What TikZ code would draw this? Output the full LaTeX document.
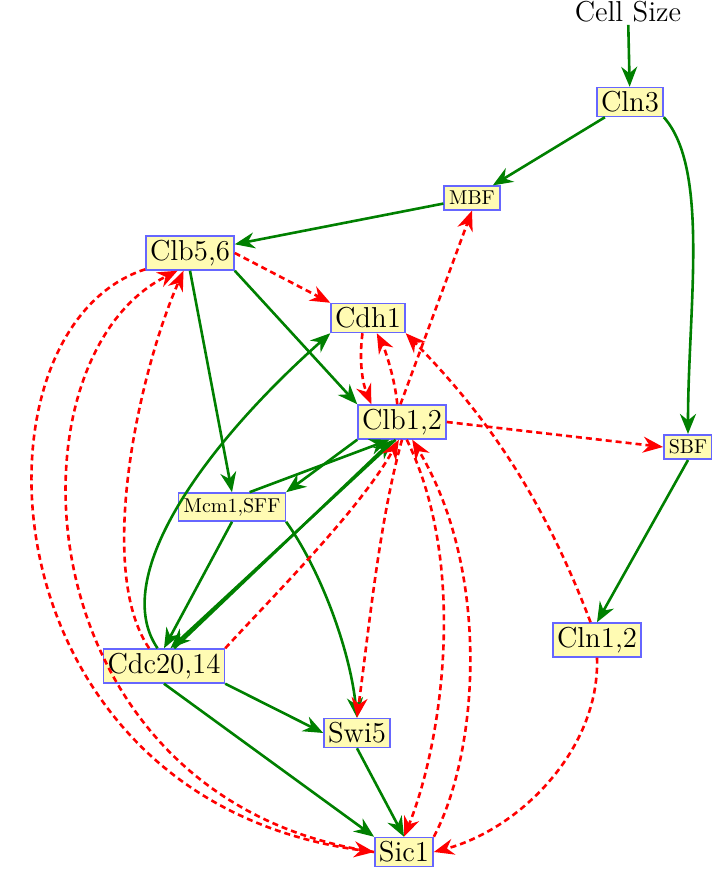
\documentclass[tikz,border=0pt]{standalone}
\usetikzlibrary{arrows.meta}
\begin{document}
\begin{tikzpicture}[x=0.5pt,y=0.5pt,
 box/.style={draw=blue!60,fill=yellow!30,line width=0.8pt,inner sep=2pt,font=\Large},
 sbox/.style={box,font=\normalsize,inner sep=2.5pt},
 posedge/.style={draw=green!50!black,line width=1.3pt,-{Stealth[length=10pt,width=8pt]}},
 negedge/.style={draw=red,line width=1.3pt,dash pattern=on 3pt off 2pt,-{Stealth[length=10pt,width=8pt]}}]
\useasboundingbox (0,0) rectangle (712,869);
\node[font=\Large,inner sep=1pt] (cs) at (628,857) {Cell Size};
\node[box] (cln3) at (630,767) {Cln3};
\node[sbox] (mbf) at (472,671) {MBF};
\node[box] (clb56) at (190,616) {Clb5,6};
\node[box] (cdh1) at (368,551) {Cdh1};
\node[box] (clb12) at (402,447) {Clb1,2};
\node[sbox] (sbf) at (688,422) {SBF};
\node[sbox] (mcm) at (232,362) {Mcm1,SFF};
\node[box] (cln12) at (597,229) {Cln1,2};
\node[box] (cdc) at (164,203) {Cdc20,14};
\node[box] (swi5) at (357,136) {Swi5};
\node[box] (sic1) at (404,17) {Sic1};
% green
\draw[posedge] (cs) -- (cln3);
\draw[posedge] (cln3) -- (mbf);
\draw[posedge] (cln3.south east) .. controls (710,700) and (688,560) .. (sbf.north);
\draw[posedge] (mbf) -- (clb56);
\draw[posedge] (clb56.south) -- (mcm.north);
\draw[posedge] (clb56.south east) -- (clb12.north west);
\draw[posedge] (clb12.south west) -- (mcm.north east);
\draw[posedge] (mcm.40) -- (clb12.235);
\draw[posedge] (mcm.south) -- (cdc.north);
\draw[posedge] (clb12.250) -- (cdc.70);
\draw[posedge] (cdc.60) -- (clb12.243);
\draw[posedge] (mcm.south east) .. controls (320,300) and (350,220) .. (swi5.north);
\draw[posedge] (cdc.110) .. controls (110,290) and (200,420) .. (cdh1.south west);
\draw[posedge] (cdc.south east) -- (swi5.west);
\draw[posedge] (cdc.south) -- (sic1.north west);
\draw[posedge] (swi5.south) -- (sic1.north);
\draw[posedge] (sbf.south) -- (cln12.north);
% red
\draw[negedge] (clb56.east) -- (cdh1.north west);
\draw[negedge] (cdh1.250) .. controls (358,500) and (365,480) .. (clb12.150);
\draw[negedge] (clb12.105) .. controls (395,490) and (385,520) .. (cdh1.300);
\draw[negedge] (clb12.95) -- (mbf.south);
\draw[negedge] (clb12.east) -- (sbf.west);
\draw[negedge] (cdc.130) .. controls (95,300) and (140,500) .. (clb56.250);
\draw[negedge] (cdc.north east) .. controls (280,280) and (360,360) .. (clb12.260);
\draw[negedge] (clb56.200) .. controls (-40,540) and (-20,70) .. (sic1.west);
\draw[negedge] (sic1.west) .. controls (20,70) and (0,510) .. (clb56.235);
\draw[negedge] (clb12.270) .. controls (380,350) and (370,250) .. (swi5.north);
\draw[negedge] (clb12.285) .. controls (470,300) and (440,120) .. (sic1.north);
\draw[negedge] (sic1.north east) .. controls (480,120) and (490,300) .. (clb12.300);
\draw[negedge] (cln12.110) .. controls (540,380) and (480,460) .. (cdh1.south east);
\draw[negedge] (cln12.south) .. controls (600,120) and (520,40) .. (sic1.east);
\end{tikzpicture}
\end{document}
